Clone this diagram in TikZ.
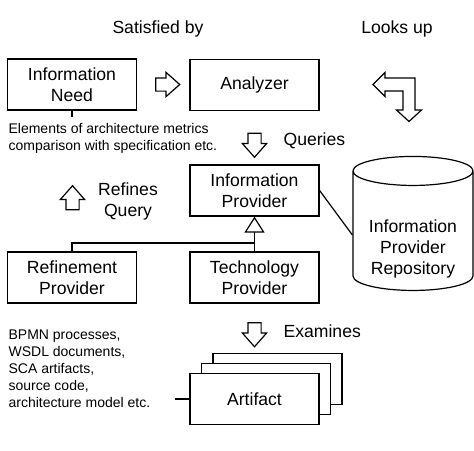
\documentclass[tikz,border=0pt]{standalone}
\usepackage{fontspec}
\setmainfont{Liberation Sans}
\usetikzlibrary{shapes.arrows, shapes.geometric, arrows.meta, shadows, positioning}

\begin{document}
\begin{tikzpicture}[x=1pt, y=-1pt, line width=1.2pt,
	box/.style={draw, fill=white, minimum width=129pt, minimum height=51pt, align=center, inner sep=3pt, font=\fontsize{17.6}{21}\selectfont},
	big/.style={font=\fontsize{17.6}{21}\selectfont, inner sep=0pt},
	small/.style={font=\fontsize{14}{17}\selectfont, align=left, inner sep=0pt},
	blockarrow/.style={single arrow, draw, inner sep=0pt, text height=12pt, text depth=0pt, single arrow head extend=5.5pt, minimum height=24pt, single arrow tip angle=83}]
	\useasboundingbox (0,0) rectangle (474,450);
	\draw (72,84.5) node[box] (need) {Information\\Need}
		(254.5,85) node[box] (ana) {Analyzer}
		(254.5,190.5) node[box] (ip) {Information\\Provider}
		(72,277.5) node[box] (ref) {Refinement\\Provider}
		(254.5,277.5) node[box] (tech) {Technology\\Provider};
	\node[box, double copy shadow={shadow xshift=11.5pt, shadow yshift=10pt}] (art) at (254.5,399) {Artifact};
	\node[draw, cylinder, shape border rotate=90, inner sep=10pt, aspect=1.45, minimum width=120pt, minimum height=134pt] (repo) at (413,235) {};

	% labels
	\draw (158,29) node[big] (sat) {Satisfied by}
		(397,29) node[big] (looks) {Looks up}
		(283,141) node[big, anchor=west] (qry) {Queries}
		(283,331) node[big, anchor=west] (exa) {Examines}
		(128,201.5) node[big, align=center] (refq) {Refines\\Query}
		(413,249) node[big, align=center] (repotxt) {Information\\Provider\\Repository}
		(8,138) node[small, anchor=west] (elem) {Elements of architecture metrics\\comparison with specification etc.}
		(8,369) node[small, anchor=west] (kinds) {BPMN processes,\\WSDL documents,\\SCA artifacts,\\source code,\\architecture model etc.};

	% open block arrows
	\draw (164,84.5) node[blockarrow] (satarr) {}
		(254.5,141.5) node[blockarrow, rotate=-90] (qryarr) {}
		(254.5,331) node[blockarrow, rotate=-90] (exaarr) {}
		(72.5,201.5) node[blockarrow, rotate=90] (refarr) {};
	\draw (373,84.5) -- (385,72.5) -- (385,78) -- (415,78) -- (415,110) -- (421.5,110) -- (409,121.5)
		-- (396.5,110) -- (403,110) -- (403,91) -- (385,91) -- (385,96.5) -- cycle;

	\coordinate (elemtip) at (72,117);
	\coordinate (kindstip) at (175,399);
	\coordinate (joint) at (254.5,243);
	\draw (need.south) -- (elemtip);
	\draw (art.west) -- (kindstip);
	\draw (ip.east) -- (repo.west);
	\draw[-{Triangle[open, length=16pt, width=20pt]}] (tech.north) -- (ip.south);
	\draw (ref.north) |- (joint);
\end{tikzpicture}
\end{document}
